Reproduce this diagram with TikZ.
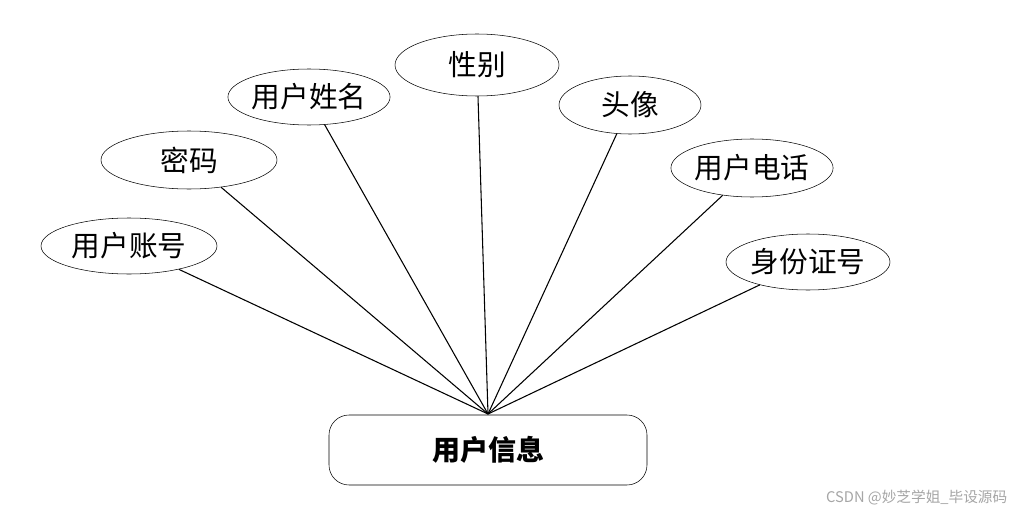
\documentclass[tikz,border=0pt]{standalone}
\usepackage{fontspec}
\setmainfont{Liberation Serif}
\newfontfamily\cjk{Noto Sans CJK SC}
\usetikzlibrary{shapes.geometric}
\begin{document}
\begin{tikzpicture}[x=0.75pt,y=-0.75pt,
  attr/.style={draw,ellipse,inner sep=0pt,font=\cjk\fontsize{21.5}{23}\selectfont},
  ent/.style={draw,rounded corners=15pt,minimum width=318*0.75pt,minimum height=70*0.75pt,font=\cjk\bfseries\fontsize{21}{23}\selectfont},
  link/.style={draw,line width=0.8pt}]
\useasboundingbox[fill=white] (0,0) rectangle (1017,517);
\node[ent] (e) at (488,450) {用户信息};
\coordinate (p) at (488,414);
\node[attr,minimum width=176*0.75pt,minimum height=56*0.75pt] (a1) at (129,246) {用户账号};
\node[attr,minimum width=176*0.75pt,minimum height=58*0.75pt] (a2) at (189,160) {密码};
\node[attr,minimum width=162*0.75pt,minimum height=56*0.75pt] (a3) at (309,97) {用户姓名};
\node[attr,minimum width=164*0.75pt,minimum height=62*0.75pt] (a4) at (477,65) {性别};
\node[attr,minimum width=142*0.75pt,minimum height=58*0.75pt] (a5) at (630,105) {头像};
\node[attr,minimum width=158*0.75pt,minimum height=58*0.75pt] (a6) at (752,168) {用户电话};
\node[attr,minimum width=164*0.75pt,minimum height=56*0.75pt] (a7) at (808,262) {身份证号};
\foreach \n in {a1,a2,a3,a4,a5,a6,a7} \draw[link] (\n) -- (p);
\node[anchor=east,text=gray!70,font=\cjk\fontsize{11}{12}\selectfont] (wm) at (1012,498) {CSDN @妙芝学姐\_毕设源码};
\end{tikzpicture}
\end{document}
